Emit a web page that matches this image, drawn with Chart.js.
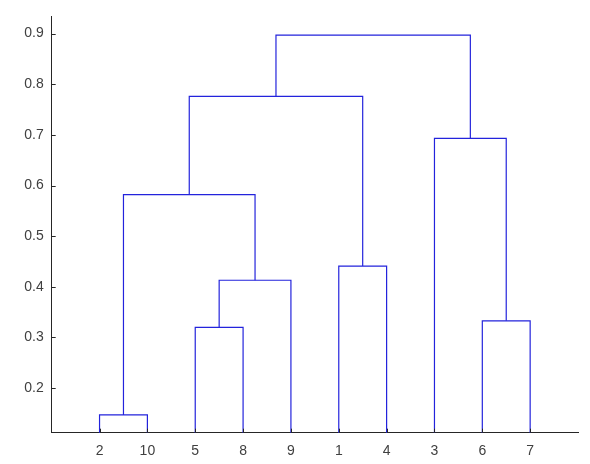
<!DOCTYPE html>
<html>
<head>
<meta charset="utf-8">
<script src="https://cdn.jsdelivr.net/npm/chart.js@4/dist/chart.umd.min.js"></script>
<style>
html,body{margin:0;padding:0;background:#fff;}
canvas{display:block;}
</style>
</head>
<body>
<canvas id="c" width="590" height="464"></canvas>
<script>
// Leaf labels in dendrogram order (positions 1..10)
const leafLabels = ['2','10','5','8','9','1','4','3','6','7'];
// Linkage: nodes 0..9 are leaves (by position), merge k creates node 10+k
const mergeLeft   = [0, 2, 8, 11, 5, 10, 7, 15, 17];
const mergeRight  = [1, 3, 9, 4, 6, 13, 12, 14, 16];
const mergeHeight = [0.147, 0.320, 0.333, 0.413, 0.441, 0.582, 0.693, 0.776, 0.897];
const leafHeight = 0;
// Axis ticks
const yTicks = [0.2, 0.3, 0.4, 0.5, 0.6, 0.7, 0.8, 0.9];
const xRange = [0, 11];
const yRange = [0.112, 0.934];

// Build node positions from linkage
const nodeX = leafLabels.map((_, i) => i + 1);
const nodeY = leafLabels.map(() => leafHeight);
const datasets = [];
mergeHeight.forEach((h, k) => {
  const l = mergeLeft[k], r = mergeRight[k];
  const xl = nodeX[l], xr = nodeX[r];
  datasets.push({
    data: [
      {x: xl, y: nodeY[l]},
      {x: xl, y: h},
      {x: xr, y: h},
      {x: xr, y: nodeY[r]}
    ],
    showLine: true,
    borderColor: 'rgb(35,35,220)',
    borderWidth: 1.2,
    pointRadius: 0,
    fill: false,
    tension: 0
  });
  nodeX.push((xl + xr) / 2);
  nodeY.push(h);
});

const axisColor = '#262626';
const font = {family: "'Liberation Sans', Arial, sans-serif", size: 14};

const inwardTicks = {
  id: 'inwardTicks',
  afterDatasetsDraw(chart) {
    const ctx = chart.ctx, a = chart.chartArea;
    const xs = chart.scales.x, ys = chart.scales.y;
    ctx.save();
    ctx.strokeStyle = axisColor;
    ctx.lineWidth = 1;
    ctx.beginPath();
    ys.ticks.forEach(t => {
      const py = Math.round(ys.getPixelForValue(t.value)) + 0.5;
      ctx.moveTo(a.left, py); ctx.lineTo(a.left + 4, py);
    });
    xs.ticks.forEach(t => {
      const px = Math.round(xs.getPixelForValue(t.value)) + 0.5;
      ctx.moveTo(px, a.bottom); ctx.lineTo(px, a.bottom - 4);
    });
    ctx.stroke();
    ctx.restore();
  }
};

new Chart(document.getElementById('c'), {
  type: 'scatter',
  data: {datasets},
  options: {
    responsive: false,
    animation: false,
    events: [],
    layout: {padding: {left: 0, top: 16, right: 12, bottom: 0}},
    plugins: {legend: {display: false}, tooltip: {enabled: false}},
    scales: {
      x: {
        type: 'linear',
        min: xRange[0], max: xRange[1],
        afterBuildTicks: s => { s.ticks = leafLabels.map((_, i) => ({value: i + 1})); },
        afterFit: s => { s.height = 31.3; },
        ticks: {
          callback: (v) => leafLabels[v - 1],
          color: '#404040', font, padding: 10, maxRotation: 0, autoSkip: false
        },
        grid: {display: false, drawTicks: false},
        border: {display: true, color: axisColor, width: 1}
      },
      y: {
        type: 'linear',
        min: yRange[0], max: yRange[1],
        afterBuildTicks: s => { s.ticks = yTicks.map(v => ({value: v})); },
        afterFit: s => { s.width = 51.7; },
        ticks: {
          callback: (v) => v.toFixed(1),
          color: '#404040', font, padding: 8
        },
        grid: {display: false, drawTicks: false},
        border: {display: true, color: axisColor, width: 1}
      }
    }
  },
  plugins: [inwardTicks]
});
</script>
</body>
</html>
